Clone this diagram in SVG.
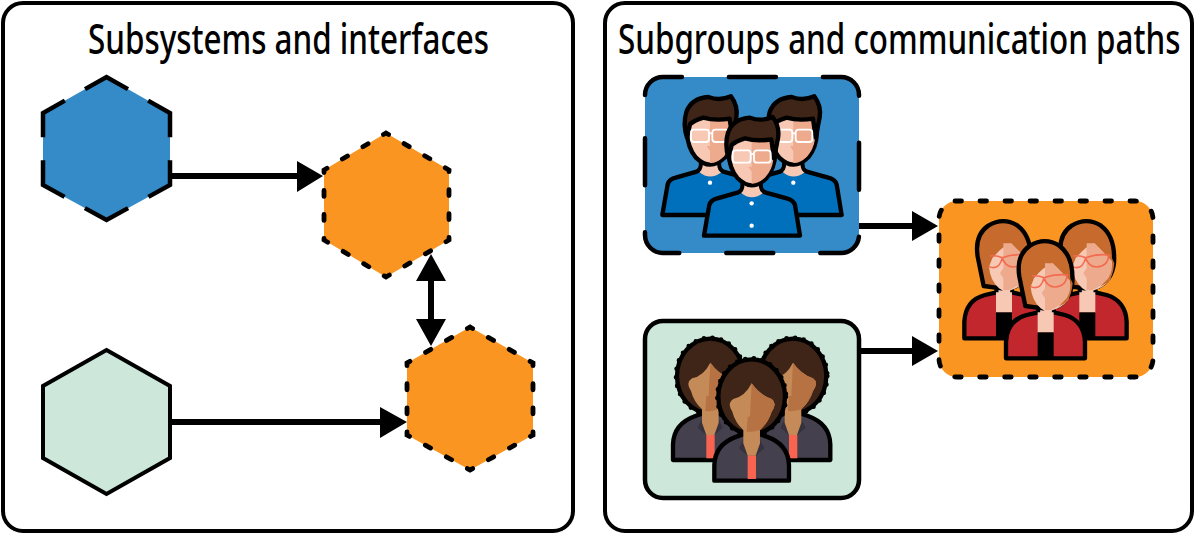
<svg xmlns="http://www.w3.org/2000/svg" xmlns:xlink="http://www.w3.org/1999/xlink" width="1195" height="534" viewBox="0 0 1195 534">
<style>
.panel{fill:#fff;stroke:#000;stroke-width:4}
.title{font-family:"Noto Sans","Liberation Sans",sans-serif;font-size:42px;font-weight:500;fill:#000}
.conn{stroke:#000;stroke-width:6;fill:none}
.head{fill:#000}
.blue{fill:#358bc8}.orange{fill:#f99520}.green{fill:#cde8da}
.longdash{stroke:#000;stroke-width:4.5;stroke-linejoin:miter}
.dotdash{stroke:#000;stroke-width:4.8;stroke-linecap:round}
.ol{stroke:#000;stroke-width:13;stroke-linejoin:round}
</style>
<defs>
<g id="man">
<path class="ol" fill="#0170bc" d="M222,497L238,405Q242,390 262,385L325,367Q338,362 338,345V320H392V345Q392,362 405,367L470,385Q490,390 495,405L510,497Z"/>
<path fill="#f7c9b4" d="M333,368Q365,395 400,368Q392,362 392,345V325H338V345Q338,362 333,368Z"/>
<path fill="none" stroke="#000" stroke-width="11" d="M325,367Q338,362 338,345V325M405,367Q392,362 392,345V325"/>
<circle cx="365" cy="400" r="6.5" fill="#fff"/><circle cx="365" cy="467" r="6.5" fill="#fff"/>
<path class="ol" fill="#f7c9b4" d="M296,250Q298,295 322,324Q345,346 365,346Q388,346 410,324Q434,295 436,250L438,190L298,190Z"/>
<path fill="#eeaa8c" d="M365,205H430L430,270Q426,300 406,322Q385,342 365,341V305L355,290H365Z"/>
<path class="ol" fill="#3f2517" d="M296,265Q283,225 294,188Q310,146 360,143Q395,156 428,141Q450,170 444,205L432,265L424,208Q380,215 345,205Q315,215 305,225Z"/>
<g fill="none" stroke="#fff" stroke-width="5.5"><rect x="308" y="241" width="54" height="37" rx="9"/><rect x="372" y="241" width="50" height="37" rx="9"/><path d="M362,252H372"/></g>
</g>
<g id="woman">
<path class="ol" fill="#c1272d" d="M228,490V440Q232,375 290,360L325,352V320H371V352L405,360Q462,378 465,440V490Z"/>
<rect x="323" y="335" width="48" height="78" fill="#f7c9b4"/>
<rect x="323" y="412" width="48" height="78" fill="#000"/>
<path fill="none" stroke="#000" stroke-width="11" d="M325,352V322M371,352V322"/>
<path class="ol" fill="#c66b2d" d="M286,333L268,245Q258,180 300,152Q345,125 388,152Q432,185 427,265Q420,318 380,335L340,340Z"/>
<path fill="#f7c9b4" d="M368,205Q340,215 312,250L302,275Q305,315 332,340L345,348H360Q395,340 415,315Q428,280 420,258Q398,235 368,205Z"/>
<path fill="#eeaa8c" d="M345,205H368Q398,235 420,258Q424,290 410,310Q390,335 360,346L345,345V310L335,295L345,280Z"/>
<path fill="#c66b2d" d="M410,310Q424,290 421,250L428,265Q425,300 410,322L385,335Z"/>
<path fill="none" stroke="#f36b50" stroke-width="5" d="M305,243Q325,240 342,248Q335,278 315,278Q308,278 302,274M342,248Q375,236 412,240Q408,275 375,276Q350,275 342,248Z"/>
</g>
<g id="curly">
<ellipse cx="350" cy="245" rx="100" ry="112" fill="#3f2517" stroke="#000" stroke-width="13"/>
<ellipse cx="350" cy="245" rx="103" ry="115" fill="none" stroke="#000" stroke-width="14" stroke-linecap="round" stroke-dasharray="0 26"/>
<path class="ol" fill="#44404d" d="M238,497V450Q240,388 305,365L325,358H375L395,365Q460,388 462,450V497Z"/>
<path fill="#35323d" d="M325,375L312,400L338,422V420L325,385ZM375,375L388,400L362,422V420L375,385Z"/>
<path fill="#c48a58" d="M325,330H375V385L362,422H338L325,385Z"/>
<rect x="338" y="422" width="25" height="70" fill="#f96450"/>
<path fill="#c48a58" d="M350,205Q330,245 295,252Q275,265 292,290Q300,322 325,345Q350,356 375,345Q400,322 410,290Q428,265 410,252Q375,240 350,205Z"/>
<path fill="#b67242" d="M350,205Q375,240 410,252Q428,265 410,290Q400,322 375,345Q358,352 335,350L338,305H345Z"/>
</g>
</defs>

<g id="panel-left"><rect class="panel" x="3" y="3" width="570" height="528" rx="20"/><text class="title" transform="translate(88,54) scale(0.74,1)" textLength="542" lengthAdjust="spacingAndGlyphs">Subsystems and interfaces</text></g>
<g id="panel-right"><rect class="panel" x="605" y="3" width="587" height="528" rx="20"/><text class="title" transform="translate(618,54) scale(0.74,1)" textLength="760" lengthAdjust="spacingAndGlyphs">Subgroups and communication paths</text></g>

<g id="connectors">
<path class="conn" d="M168,176H300M168,422H383M431,278V322M857,226H915M859,351H915"/>
<path class="head" d="M297,161L323,176L297,192ZM380,407L407,422L380,438ZM416,281L431,254L446,281ZM416,319L431,346L446,319ZM912,211L938,226L912,241ZM912,336L938,351L912,366Z"/>
</g>

<g id="hex-blue"><polygon class="blue" points="106.5,77 170,113 170,185 106.5,220 43,185 43,113"/><polygon class="longdash" fill="none" pathLength="6" stroke-dasharray="0.68 0.32" stroke-dashoffset="0.34" points="106.5,77 170,113 170,185 106.5,220 43,185 43,113"/></g>
<g id="hex-orange-top"><polygon class="orange" points="386,133 449,170 449,240 386,277 324,240 324,170"/><polygon class="dotdash" fill="none" pathLength="18" stroke-dasharray="0.25 0.75" stroke-dashoffset="0.125" points="386,133 449,170 449,240 386,277 324,240 324,170"/></g>
<g id="hex-orange-bottom"><polygon class="orange" points="470,327 533,363 533,435 470,470 407,435 407,363"/><polygon class="dotdash" fill="none" pathLength="18" stroke-dasharray="0.25 0.75" stroke-dashoffset="0.125" points="470,327 533,363 533,435 470,470 407,435 407,363"/></g>
<g id="hex-green"><polygon class="green" stroke="#000" stroke-width="4" points="106.5,350 170,386 170,458 106.5,494 43,458 43,386"/></g>

<g id="group-blue">
<rect class="blue" x="645" y="77" width="214" height="176" rx="18"/>
<path class="longdash" fill="none" stroke-linecap="round" stroke-dasharray="47 47" d="M645,95A18,18 0 0 1 663,77H841A18,18 0 0 1 859,95V235A18,18 0 0 1 841,253H663A18,18 0 0 1 645,235Z"/>
<g transform="translate(630,70) scale(0.3333)"><use xlink:href="#man" href="#man" x="-125" y="-62"/><use xlink:href="#man" href="#man" x="125" y="-62"/><use xlink:href="#man" href="#man"/></g>
</g>
<g id="group-orange">
<rect class="orange" x="939" y="201" width="214" height="176" rx="18"/>
<path class="dotdash" fill="none" stroke-dasharray="6.5 18.5" d="M955,201H1135A18,18 0 0 1 1153,219V359A18,18 0 0 1 1135,377H957A18,18 0 0 1 939,359V219A18,18 0 0 1 957,201"/>
<g transform="translate(930,195) scale(0.3333)"><use xlink:href="#woman" href="#woman" x="-125" y="-60"/><use xlink:href="#woman" href="#woman" x="125" y="-60"/><use xlink:href="#woman" href="#woman"/></g>
</g>
<g id="group-green">
<rect class="green" stroke="#000" stroke-width="4.5" x="645" y="321" width="214" height="177" rx="18"/>
<g transform="translate(635,315) scale(0.3333)"><use xlink:href="#curly" href="#curly" x="-124" y="-62"/><use xlink:href="#curly" href="#curly" x="124" y="-62"/><use xlink:href="#curly" href="#curly"/></g>
</g>
</svg>
